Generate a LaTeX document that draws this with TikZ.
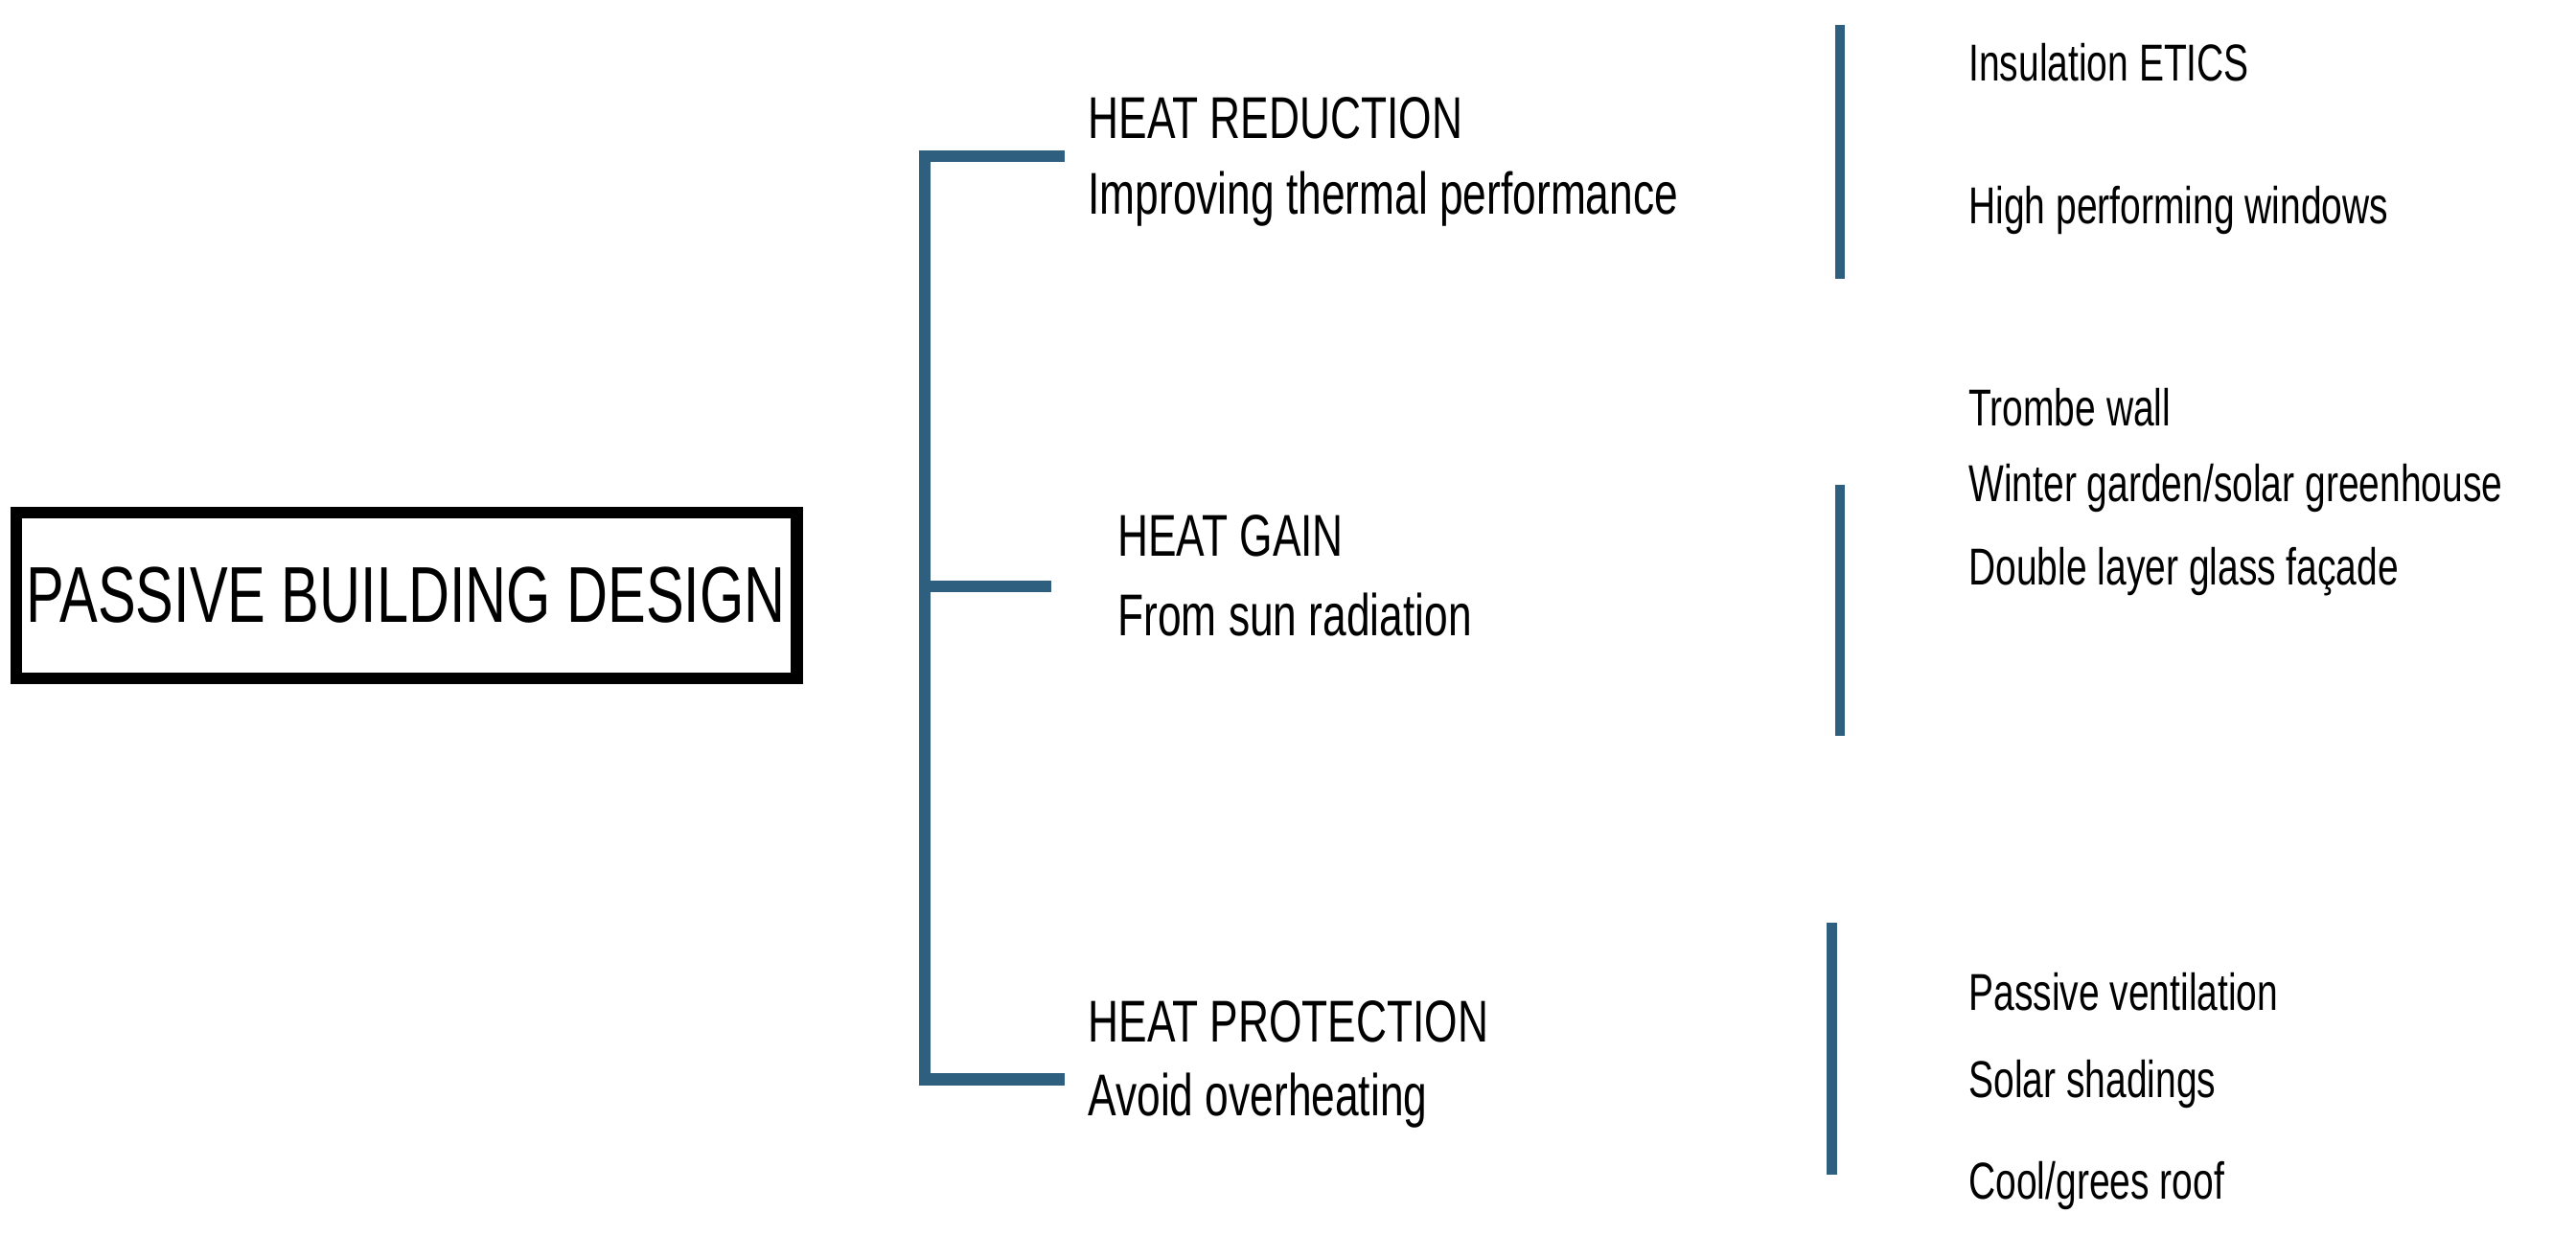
\documentclass[tikz,border=0pt]{standalone}
\usepackage{fontspec}
\setmainfont[FakeStretch=0.72]{Liberation Sans}
\begin{document}
\begin{tikzpicture}[x=0.01714cm,y=-0.01714cm,
  ln/.style={draw=lc,line width=3.6pt},
  hd/.style={anchor=west,inner sep=0,font=\fontsize{17.5}{20}\selectfont},
  it/.style={anchor=west,inner sep=0,font=\fontsize{15.4}{18}\selectfont}]
\definecolor{lc}{HTML}{2E5F7F}
\useasboundingbox (0,0) rectangle (1568,752);
\draw[line width=3.6pt] (10,312) rectangle (485,413);
\node[inner sep=0,font=\fontsize{23.5}{26}\selectfont] (rt) at (247,362) {PASSIVE BUILDING DESIGN};
\coordinate (t) at (563,95); \coordinate (m) at (563,357); \coordinate (b) at (563,657);
\coordinate (te) at (648,95); \coordinate (me) at (640,357); \coordinate (be) at (648,657);
\draw[ln] (te)--(t)--(b)--(be); \draw[ln] (m)--(me);
\node[hd] (h1) at (662,72) {HEAT REDUCTION};
\node[hd] (s1) at (662,121) {Improving thermal performance};
\node[hd] (h2) at (680,326) {HEAT GAIN};
\node[hd] (s2) at (680,374) {From sun radiation};
\node[hd] (h3) at (662,622) {HEAT PROTECTION};
\node[hd] (s3) at (662,670) {Avoid overheating};
\draw[ln,line width=3pt] (1120,15)--(1120,170);
\draw[ln,line width=3pt] (1120,295)--(1120,448);
\draw[ln,line width=3pt] (1115,562)--(1115,715);
\node[it] (a1) at (1198,38) {Insulation ETICS};
\node[it] (a2) at (1198,128) {High performing windows};
\node[it] (b1) at (1198,248) {Trombe wall};
\node[it] (b2) at (1198,297) {Winter garden/solar greenhouse};
\node[it] (b3) at (1198,348) {Double layer glass façade};
\node[it] (c1) at (1198,604) {Passive ventilation};
\node[it] (c2) at (1198,660) {Solar shadings};
\node[it] (c3) at (1198,722) {Cool/grees roof};
\end{tikzpicture}
\end{document}
